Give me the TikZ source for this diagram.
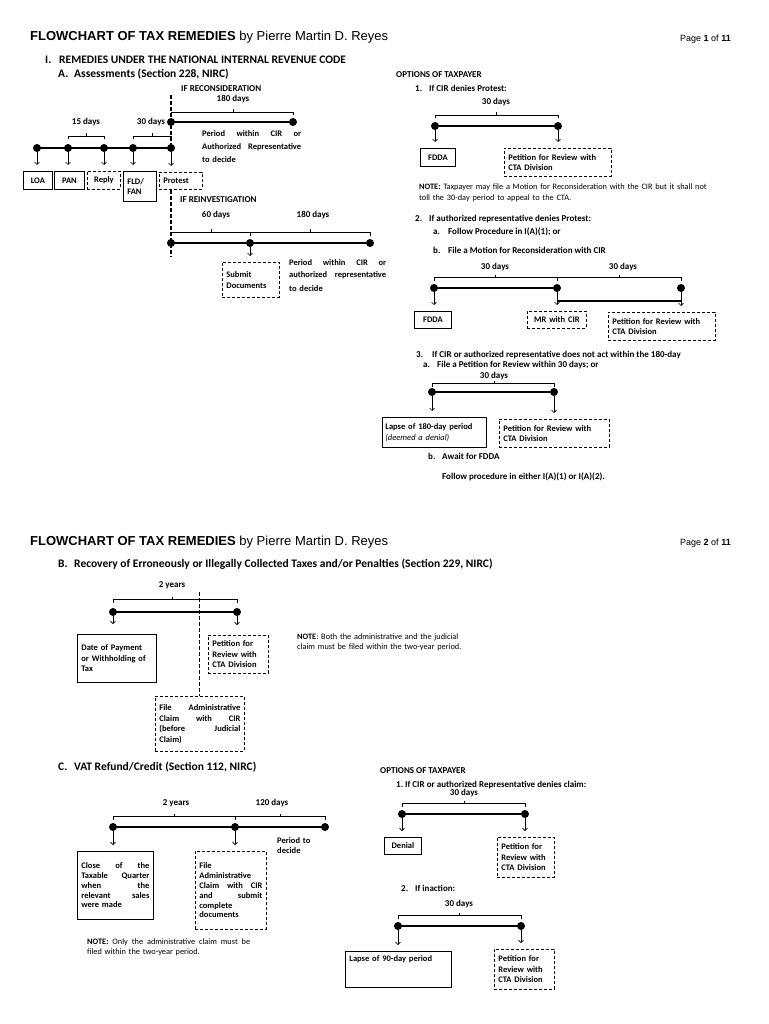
\documentclass[tikz,border=0pt]{standalone}
\usepackage{fontspec}
\setmainfont{Carlito}
\newfontfamily\arialf{Liberation Sans}
\usetikzlibrary{arrows.meta}
\newcommand\jl[2]{\makebox[#1][l]{#2}}
\newcommand\fsz[2]{\fontsize{#1}{#2}\selectfont}
\newcommand\brk[4]{%
  \draw[brl] (#1,#3+3.5) -- (#1,#3) -- (#2,#3) -- (#2,#3+3.5);
  \draw[brl] (#4,#3) -- (#4,#3-2.5);}
\begin{document}
\begin{tikzpicture}[x=1pt,y=-1pt,
  tl/.style={line width=2.6pt},
  dotn/.style={circle, fill=black, inner sep=0pt, minimum size=8pt},
  brl/.style={line width=0.6pt},
  arr/.style={line width=0.55pt, -{Straight Barb[length=2.5pt,width=5pt]}, shorten >=6pt},
  vdash/.style={line width=1.4pt, dash pattern=on 4pt off 2pt},
  bx/.style={draw, line width=0.8pt, anchor=north west, inner xsep=4pt, inner ysep=1pt,
    font=\bfseries\fsz{8.5}{10.5}, align=left},
  dbx/.style={bx, dash pattern=on 3pt off 2pt},
  ttl/.style={anchor=base west, font=\arialf\fsz{13}{15}, inner sep=0pt},
  pg/.style={anchor=base west, font=\arialf\fsz{9}{11}, inner sep=0pt},
  hd/.style={anchor=base west, font=\bfseries\fsz{11.5}{13}, inner sep=0pt},
  sub/.style={anchor=base west, font=\bfseries\fsz{9}{11}, inner sep=0pt},
  lbl/.style={anchor=base, font=\bfseries\fsz{9}{11}, inner sep=0pt},
  para/.style={anchor=base west, font=\bfseries\fsz{8.5}{13}, inner sep=0pt, align=left},
  note/.style={anchor=base west, font=\fsz{8.3}{10}, inner sep=0pt, align=left},
]
\useasboundingbox (0,0) rectangle (768,1024);
\fill[white] (0,0) rectangle (768,1024);

%% ================= PAGE 1 =================
\node[ttl] (t1) at (30,41) {\textbf{FLOWCHART OF TAX REMEDIES} by Pierre Martin D. Reyes};
\node[pg] (pg1) at (680,41.5) {Page \textbf{1} of \textbf{11}};
\node[hd] (h1n) at (45,64) {I.};
\node[hd] (h1) at (59,64) {REMEDIES UNDER THE NATIONAL INTERNAL REVENUE CODE};
\node[hd] (hAn) at (58,77.5) {A.};
\node[hd] (hA) at (74,77.5) {Assessments (Section 228, NIRC)};

% left timeline
\node[dotn] (a1) at (37,148) {};
\node[dotn] (a2) at (68,148) {};
\node[dotn] (a3) at (104,148) {};
\node[dotn] (a4) at (133,148) {};
\node[dotn] (a5) at (171,148) {};
\node[dotn] (a6) at (171,122) {};
\node[dotn] (a7) at (293,122) {};
\draw[tl] (a1.center) -- (a5.center);
\draw[tl] (a6.center) -- (a7.center);
\coordinate (vt) at (171,95);
\draw[vdash] (vt) -- (a5.center);
\brk{68}{104}{136}{86}
\brk{133}{171}{136}{152}
\brk{171}{293}{112}{233}
\node[lbl] (l15) at (86,125) {15 days};
\node[lbl] (l30a) at (151,125) {30 days};
\node[sub] (ifrc) at (181,92) {IF RECONSIDERATION};
\node[lbl] (l180a) at (233,102) {180 days};
\node[para, text width=99pt] (per1) at (202,137)
  {\jl{99pt}{Period\hfill within\hfill CIR\hfill or}\\\jl{99pt}{Authorized\hfill Representative}\\to decide};

\node[bx, minimum width=29pt, minimum height=18pt, text width=21pt, align=center] (loa) at (23,171) {LOA};
\node[bx, minimum width=30pt, minimum height=18pt, text width=22pt, align=center] (pan) at (54,171) {PAN};
\node[dbx, minimum width=33pt, minimum height=18pt, text width=25pt, align=center] (rep) at (87,171) {Reply};
\node[bx, minimum width=33pt, minimum height=30pt, text width=25pt] (fld) at (123,171) {FLD/\\FAN};
\node[dbx, minimum width=43pt, minimum height=17pt, text width=35pt] (prot) at (159,172) {Protest};
\draw[arr] (a1) -- (a1 |- loa.north);
\draw[arr] (a2) -- (a2 |- pan.north);
\draw[arr] (a3) -- (a3 |- rep.north);
\draw[arr] (a4) -- (a4 |- fld.north);
\draw[arr] (a5) -- (a5 |- prot.north);

% reinvestigation
\coordinate (vb) at (171,256);
\draw[vdash] (vb |- prot.south) -- (vb);
\node[sub] (ifri) at (180,203) {IF REINVESTIGATION};
\node[lbl] (l60) at (216,218) {60 days};
\node[lbl] (l180b) at (313,218) {180 days};
\brk{171}{250}{232}{211}
\brk{250}{370}{232}{310}
\node[dotn] (r1) at (171,243) {};
\node[dotn] (r2) at (250,243) {};
\node[dotn] (r3) at (370,243) {};
\draw[tl] (r1.center) -- (r3.center);
\node[dbx, minimum width=57pt, minimum height=35pt, text width=49pt] (subm) at (222,262) {Submit\\Documents};
\draw[arr] (r2) -- (r2 |- subm.north);
\node[para, text width=97pt] (per2) at (289,265)
  {\jl{97pt}{Period\hfill within\hfill CIR\hfill or}\\\jl{97pt}{authorized\hfill representative}\\to decide};

% right: options
\node[sub] (opt1) at (396,77.5) {OPTIONS OF TAXPAYER};
\node[sub] (o1n) at (415,92) {1.};
\node[sub] (o1t) at (429,92) {If CIR denies Protest:};
\node[lbl] (l30b) at (496,105) {30 days};
\brk{435}{558}{115}{496}
\node[dotn] (o1) at (435,126) {};
\node[dotn] (o2) at (558,126) {};
\draw[tl] (o1.center) -- (o2.center);
\node[bx, minimum width=35pt, minimum height=18pt, text width=27pt, align=center] (fd1) at (420,148) {FDDA};
\node[dbx, minimum width=107pt, minimum height=28pt, text width=99pt] (pet1) at (504,148) {Petition for Review with\\CTA Division};
\draw[arr] (o1) -- (o1 |- fd1.north);
\draw[arr] (o2) -- (o2 |- pet1.north);
\node[note, text width=300pt] (note1) at (419,190)
  {\textbf{NOTE:} Taxpayer may file a Motion for Reconsideration with the CIR but it shall not\\toll the 30-day period to appeal to the CTA.};

\node[sub] (o2n) at (415,222) {2.};
\node[sub] (o2t) at (429,222) {If authorized representative denies Protest:};
\node[sub] (o2an) at (433,235) {a.};
\node[sub] (o2at) at (448,235) {Follow Procedure in I(A)(1); or};
\node[sub] (o2bn) at (433,253) {b.};
\node[sub] (o2bt) at (448,253) {File a Motion for Reconsideration with CIR};
\node[lbl] (l30c) at (495,269) {30 days};
\node[lbl] (l30d) at (623,269) {30 days};
\brk{434}{557}{277}{495}
\brk{557}{681}{277}{619}
\node[dotn] (m1) at (434,288) {};
\node[dotn] (m2) at (557,288) {};
\node[dotn] (m3) at (681,288) {};
\draw[tl] (m1.center) -- (m2.center);
\coordinate (m2b) at (557,301);
\coordinate (m3b) at (681,301);
\draw[tl] (m2b) -- (m3b);
\node[bx, minimum width=37pt, minimum height=17pt, text width=29pt, align=center] (fd2) at (414,311) {FDDA};
\node[dbx, minimum width=59pt, minimum height=17pt, text width=51pt, align=center] (mr) at (527,311) {MR with CIR};
\node[dbx, minimum width=107pt, minimum height=28pt, text width=99pt] (pet2) at (608,312) {Petition for Review with\\CTA Division};
\draw[arr] (m1) -- (m1 |- fd2.north);
\draw[arr] (m2) -- (m2 |- mr.north);
\draw[arr] (m3) -- (m3 |- pet2.north);

\node[sub] (o3n) at (416,357) {3.};
\node[sub] (o3t) at (432,357) {If CIR or authorized representative does not act within the 180-day};
\node[sub] (o3an) at (423,367) {a.};
\node[sub] (o3at) at (437,367) {File a Petition for Review within 30 days; or};
\node[lbl] (l30e) at (494,378) {30 days};
\brk{432}{554}{383}{494}
\node[dotn] (n1) at (432,392) {};
\node[dotn] (n2) at (554,392) {};
\draw[tl] (n1.center) -- (n2.center);
\node[bx, inner xsep=3pt, minimum width=104pt, minimum height=30pt, text width=98pt] (lap1) at (382,417)
  {Lapse of 180-day period\\{\mdseries\itshape (deemed a denial)}};
\node[dbx, minimum width=110pt, minimum height=28pt, text width=102pt] (pet3) at (499,419) {Petition for Review with\\CTA Division};
\draw[arr] (n1) -- (n1 |- lap1.north);
\draw[arr] (n2) -- (n2 |- pet3.north);
\node[sub] (o3bn) at (428,459) {b.};
\node[sub] (o3bt) at (442,459) {Await for FDDA};
\node[sub] (o3bf) at (442,479) {Follow procedure in either I(A)(1) or I(A)(2).};

%% ================= PAGE 2 =================
\node[ttl] (t2) at (30,545) {\textbf{FLOWCHART OF TAX REMEDIES} by Pierre Martin D. Reyes};
\node[pg] (pg2) at (680,545) {Page \textbf{2} of \textbf{11}};
\node[hd] (hBn) at (58,567) {B.};
\node[hd] (hB) at (74,567) {Recovery of Erroneously or Illegally Collected Taxes and/or Penalties (Section 229, NIRC)};
\node[lbl] (l2y) at (172,587) {2 years};
\brk{113}{237}{599}{172}
\node[dotn] (b1) at (113,612) {};
\node[dotn] (b2) at (237,612) {};
\draw[tl] (b1.center) -- (b2.center);
\node[bx, minimum width=79pt, minimum height=48pt, text width=71pt] (date) at (77,634) {Date of Payment\\or Withholding of\\Tax};
\node[dbx, minimum width=60pt, minimum height=38pt, text width=52pt] (pet4) at (208,635) {Petition for\\Review with\\CTA Division};
\draw[arr, shorten >=10pt] (b1) -- (b1 |- date.north);
\draw[arr, shorten >=10pt] (b2) -- (b2 |- pet4.north);
\node[dbx, minimum width=89pt, minimum height=55pt, text width=81pt] (fileb) at (155,696)
  {\jl{81pt}{File\hfill Administrative}\\\jl{81pt}{Claim\hfill with\hfill CIR}\\\jl{81pt}{(before\hfill Judicial}\\Claim)};
\coordinate (vt2) at (199.5,592);
\draw[vdash] (vt2) -- (vt2 |- fileb.north);
\node[note, text width=200pt] (note2) at (297,639)
  {\textbf{NOTE}: Both the administrative and the judicial\\claim must be filed within the two-year period.};

\node[hd] (hCn) at (58,770) {C.};
\node[hd] (hC) at (74,770) {VAT Refund/Credit (Section 112, NIRC)};
\node[lbl] (l2yc) at (176,805) {2 years};
\node[lbl] (l120) at (272,805) {120 days};
\brk{113}{235}{816}{174}
\brk{235}{325}{816}{280}
\node[dotn] (c1) at (113,827) {};
\node[dotn] (c2) at (235,827) {};
\node[dotn] (c3) at (325,827) {};
\draw[tl] (c1.center) -- (c3.center);
\node[para, font=\bfseries\fsz{8.5}{10}, text width=40pt] (per3) at (277,843) {Period to\\decide};
\node[bx, font=\bfseries\fsz{8.5}{9.8}, minimum width=76pt, minimum height=68pt, text width=68pt] (close) at (77,851)
  {\jl{68pt}{Close\hfill of\hfill the}\\\jl{68pt}{Taxable\hfill Quarter}\\\jl{68pt}{when\hfill the}\\\jl{68pt}{relevant\hfill sales}\\were made};
\node[dbx, font=\bfseries\fsz{8.5}{9.8}, minimum width=71pt, minimum height=78pt, text width=63pt] (filec) at (195,851)
  {File\\Administrative\\\jl{63pt}{Claim\hfill with\hfill CIR}\\\jl{63pt}{and\hfill submit}\\complete\\documents};
\draw[arr] (c1) -- (c1 |- close.north);
\draw[arr] (c2) -- (c2 |- filec.north);
\node[note, text width=170pt] (note3) at (87,944)
  {\jl{163pt}{\textbf{NOTE:}\hfill Only\hfill the\hfill administrative\hfill claim\hfill must\hfill be}\\filed within the two-year period.};

\node[sub] (opt2) at (380,773) {OPTIONS OF TAXPAYER};
\node[sub] (p1n) at (396,787) {1.};
\node[sub] (p1t) at (405,787) {If CIR or authorized Representative denies claim:};
\node[lbl] (l30f) at (464,795) {30 days};
\brk{402}{525}{803}{464}
\node[dotn] (p1) at (402,814) {};
\node[dotn] (p2) at (525,814) {};
\draw[tl] (p1.center) -- (p2.center);
\node[bx, minimum width=37pt, minimum height=17pt, text width=29pt, align=center] (den) at (384,837) {Denial};
\node[dbx, minimum width=57pt, minimum height=40pt, text width=49pt] (pet5) at (497,837) {Petition for\\Review with\\CTA Division};
\draw[arr] (p1) -- (p1 |- den.north);
\draw[arr] (p2) -- (p2 |- pet5.north);

\node[sub] (q2n) at (401,891) {2.};
\node[sub] (q2t) at (415,891) {If inaction:};
\node[lbl] (l30g) at (459,906) {30 days};
\brk{398}{521}{915}{459}
\node[dotn] (q1) at (398,926) {};
\node[dotn] (q2) at (521,926) {};
\draw[tl] (q1.center) -- (q2.center);
\node[bx, minimum width=106pt, minimum height=36pt, text width=98pt] (lap2) at (345,951) {Lapse of 90-day period\\\mbox{}\\\mbox{}};
\node[dbx, minimum width=60pt, minimum height=40pt, text width=52pt] (pet6) at (494,949) {Petition for\\Review with\\CTA Division};
\draw[arr] (q1) -- (q1 |- lap2.north);
\draw[arr] (q2) -- (q2 |- pet6.north);
\end{tikzpicture}
\end{document}
